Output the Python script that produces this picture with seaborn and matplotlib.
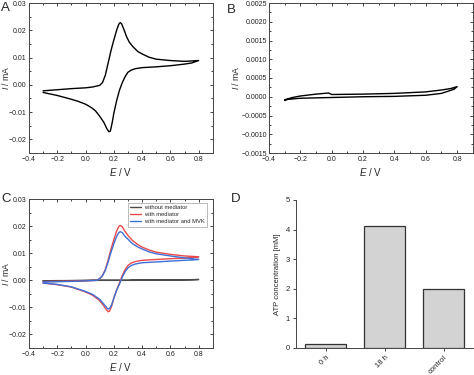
import matplotlib
matplotlib.use("Agg")
import matplotlib.pyplot as plt
import pandas as pd
import seaborn as sns
from matplotlib.ticker import AutoMinorLocator

# Panel A: CV of mediator (forward sweep then reverse sweep)
a_E = [-0.30, -0.20, -0.10, 0.00, 0.05, 0.10, 0.12, 0.14, 0.16, 0.18, 0.20, 0.22, 0.235, 0.245,
       0.255, 0.27, 0.29, 0.31, 0.335, 0.37, 0.405, 0.45, 0.50, 0.60, 0.70, 0.80,
       0.75, 0.70, 0.60, 0.50, 0.40, 0.35, 0.32, 0.30, 0.28, 0.26, 0.24, 0.22, 0.20, 0.19, 0.18,
       0.175, 0.165, 0.15, 0.13, 0.10, 0.07, 0.04, 0.00, -0.05, -0.10, -0.20, -0.30]
a_I = [-0.0022, -0.0018, -0.0014, -0.0011, -0.0008, -0.0002, 0.0008, 0.0035, 0.0080, 0.0125,
       0.0164, 0.0200, 0.0222, 0.0228, 0.0224, 0.0205, 0.0177, 0.0156, 0.0140, 0.0122, 0.0112,
       0.0101, 0.0094, 0.0089, 0.0086, 0.0089,
       0.0080, 0.0076, 0.0070, 0.0066, 0.0063, 0.0059, 0.0053, 0.0046, 0.0030, 0.0008, -0.0020,
       -0.0058, -0.0105, -0.0135, -0.0160, -0.0170, -0.0172, -0.0160, -0.0138, -0.0115, -0.0095,
       -0.0083, -0.0071, -0.0061, -0.0053, -0.0039, -0.0028]

# Panel B: blank electrode
b_E = [-0.30, -0.25, -0.20, -0.10, -0.02, 0.00, 0.20, 0.40, 0.60, 0.70, 0.76, 0.80,
       0.78, 0.70, 0.60, 0.40, 0.20, 0.00, -0.20, -0.28, -0.30]
b_I = [-0.00008, -0.00002, 0.00002, 0.00007, 0.00010, 0.00006, 0.00007, 0.00009, 0.00013, 0.00018,
       0.00022, 0.00027,
       0.00020, 0.00009, 0.00004, 0.00001, 0.00000, -0.00002, -0.00004, -0.00007, -0.00010]

# Panel C: three conditions, same potential sweep for each
c_E = [-0.30, -0.20, -0.10, 0.00, 0.08, 0.10, 0.12, 0.14, 0.16, 0.18, 0.20, 0.22, 0.235, 0.245,
       0.26, 0.28, 0.30, 0.33, 0.37, 0.40, 0.45, 0.50, 0.60, 0.70, 0.80,
       0.75, 0.70, 0.60, 0.50, 0.40, 0.35, 0.32, 0.30, 0.28, 0.26, 0.24, 0.22, 0.20, 0.185, 0.17,
       0.16, 0.15, 0.13, 0.10, 0.05, 0.00, -0.10, -0.20, -0.30]
c_none = [-0.0002, -0.0001, -0.0001, 0.0000, 0.0000, 0.0000, 0.0000, 0.0000, 0.0000, 0.0000,
          0.0000, 0.0000, 0.0000, 0.0000, 0.0000, 0.0000, 0.0000, 0.0001, 0.0001, 0.0001, 0.0001,
          0.0001, 0.0002, 0.0002, 0.0003,
          0.0002, 0.0002, 0.0001, 0.0001, 0.0001, 0.0000, 0.0000, 0.0000, 0.0000, 0.0000, 0.0000,
          0.0000, 0.0000, 0.0000, 0.0000, 0.0000, 0.0000, 0.0000, 0.0000, 0.0000, -0.0001,
          -0.0001, -0.0002, -0.0002]
c_med = [-0.0005, -0.0004, -0.0003, -0.0002, 0.0000, 0.0006, 0.0018, 0.0040, 0.0075, 0.0115,
         0.0150, 0.0182, 0.0199, 0.0203, 0.0198, 0.0180, 0.0166, 0.0148, 0.0132, 0.0123, 0.0112,
         0.0104, 0.0096, 0.0090, 0.0087,
         0.0084, 0.0082, 0.0080, 0.0077, 0.0074, 0.0069, 0.0063, 0.0055, 0.0040, 0.0018, -0.0010,
         -0.0035, -0.0067, -0.0095, -0.0114, -0.0116, -0.0110, -0.0095, -0.0075, -0.0055, -0.0043,
         -0.0025, -0.0016, -0.0010]
c_mvk = [-0.0006, -0.0005, -0.0004, -0.0002, 0.0000, 0.0006, 0.0017, 0.0037, 0.0068, 0.0103,
         0.0135, 0.0162, 0.0176, 0.0180, 0.0176, 0.0162, 0.0152, 0.0136, 0.0123, 0.0116, 0.0105,
         0.0098, 0.0090, 0.0083, 0.0077,
         0.0075, 0.0074, 0.0071, 0.0068, 0.0065, 0.0060, 0.0054, 0.0046, 0.0032, 0.0012, -0.0014,
         -0.0037, -0.0066, -0.0090, -0.0104, -0.0106, -0.0101, -0.0088, -0.0070, -0.0052, -0.0041,
         -0.0024, -0.0015, -0.0010]
c_labels = ["without mediator", "with mediator", "with mediator and MVK"]
c_colors = ["#4a4a4a", "#e84a4a", "#3f6fd6"]

# Panel D: ATP concentration
d_groups = ["0 h", "18 h", "control"]
d_atp = [0.15, 4.12, 1.98]

sns.set_theme(style="ticks")
plt.rcParams["font.family"] = ["Liberation Sans", "DejaVu Sans"]
plt.rcParams["mathtext.fontset"] = "custom"
plt.rcParams["mathtext.rm"] = "Liberation Sans"
plt.rcParams["mathtext.it"] = "Liberation Sans:italic"
plt.rcParams["axes.linewidth"] = 0.7
plt.rcParams["lines.solid_joinstyle"] = "round"

fig = plt.figure(figsize=(4.74, 3.75), dpi=100)
ax_a = fig.add_axes([0.061, 0.592, 0.388, 0.400])
ax_b = fig.add_axes([0.5675, 0.592, 0.430, 0.400])
ax_c = fig.add_axes([0.061, 0.072, 0.388, 0.397])
ax_d = fig.add_axes([0.6245, 0.072, 0.3735, 0.395])


def style_cv(ax, ylim, yticks, fmt, ylab_x):
    ax.set_xlim(-0.4, 0.9)
    ax.set_ylim(*ylim)
    ax.set_xticks([-0.4, -0.2, 0.0, 0.2, 0.4, 0.6, 0.8])
    ax.set_xticklabels(["−0.4", "−0.2", "0.0", "0.2", "0.4", "0.6", "0.8"])
    ax.set_yticks(yticks)
    ax.set_yticklabels([fmt.format(v).replace("-", "−") for v in yticks])
    ax.xaxis.set_minor_locator(AutoMinorLocator(2))
    ax.yaxis.set_minor_locator(AutoMinorLocator(2))
    ax.tick_params(which="both", direction="in", top=True, right=True, labelsize=5,
                   width=0.6, colors="#222222", pad=2)
    ax.tick_params(axis="y", pad=1.5)
    ax.tick_params(which="major", length=2.5)
    ax.tick_params(which="minor", length=1.5)
    ax.set_xlabel("$E$ / V", fontsize=7, labelpad=2)
    ax.set_ylabel("$I$ / mA", fontsize=6.2)
    ax.yaxis.set_label_coords(ylab_x, 0.5)
    for s in ax.spines.values():
        s.set_color("#444444")


# A
df_a = pd.DataFrame({"E": a_E, "I": a_I})
sns.lineplot(data=df_a, x="E", y="I", sort=False, estimator=None, color="black", lw=1.0, ax=ax_a)
style_cv(ax_a, (-0.025, 0.03), [-0.02, -0.01, 0.0, 0.01, 0.02, 0.03], "{:.2f}", -0.1)

# B
df_b = pd.DataFrame({"E": b_E, "I": b_I})
sns.lineplot(data=df_b, x="E", y="I", sort=False, estimator=None, color="black", lw=1.0, ax=ax_b)
yt_b = [-0.0015, -0.001, -0.0005, 0.0, 0.0005, 0.001, 0.0015, 0.002, 0.0025]
style_cv(ax_b, (-0.0015, 0.0025), yt_b, "{:.4f}", -0.135)

# C
df_c = pd.concat([
    pd.DataFrame({"E": c_E, "I": vals, "cond": lab})
    for vals, lab in zip([c_none, c_med, c_mvk], c_labels)
])
sns.lineplot(data=df_c, x="E", y="I", hue="cond", hue_order=c_labels, palette=c_colors,
             sort=False, estimator=None, lw=1.0, ax=ax_c)
style_cv(ax_c, (-0.025, 0.03), [-0.02, -0.01, 0.0, 0.01, 0.02, 0.03], "{:.2f}", -0.1)
leg = ax_c.legend(loc="upper right", fontsize=4.2, frameon=True, fancybox=False,
                  edgecolor="#888888", handlelength=1.9, handletextpad=0.5, borderpad=0.4,
                  labelspacing=0.35, bbox_to_anchor=(0.985, 0.995))
leg.get_frame().set_linewidth(0.5)

# D
df_d = pd.DataFrame({"group": d_groups, "atp": d_atp})
sns.barplot(data=df_d, x="group", y="atp", color="#d3d3d3", edgecolor="#333333",
            linewidth=0.9, width=0.68, saturation=1, ax=ax_d)
ax_d.set_xlim(-0.5, 2.5)
ax_d.set_ylim(0, 5)
ax_d.set_yticks([0, 1, 2, 3, 4, 5])
ax_d.set_xlabel("")
ax_d.set_ylabel("ATP concentration [mM]", fontsize=5.5, labelpad=3)
ax_d.tick_params(labelsize=5.5, width=0.6, length=2.5, pad=2)
ax_d.set_xticks(range(len(d_groups)))
ax_d.set_xticklabels(d_groups, rotation=45, ha="right", rotation_mode="anchor")
sns.despine(ax=ax_d)
for s in ax_d.spines.values():
    s.set_color("#444444")

# panel letters
for txt, x, y in [("A", 0.002, 0.995), ("B", 0.478, 0.99), ("C", 0.002, 0.485), ("D", 0.487, 0.485)]:
    fig.text(x, y, txt, fontsize=9.5, ha="left", va="top")

fig.savefig("out.png", dpi=100)
